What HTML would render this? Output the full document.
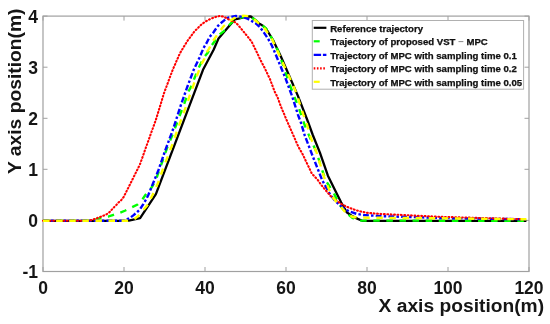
<!DOCTYPE html>
<html><head><meta charset="utf-8"><style>
html,body{margin:0;padding:0;background:#fff;}
svg{display:block;}
text{font-family:"Liberation Sans",Arial,sans-serif;font-weight:bold;fill:#151515;}
</style></head><body>
<svg width="550" height="324" viewBox="0 0 550 324">
<rect x="0" y="0" width="550" height="324" fill="#fff"/>
<rect x="43.0" y="16.1" width="486.0" height="255.4" fill="none" stroke="#a0a0a0" stroke-width="1.2"/>
<line x1="43.0" y1="271.5" x2="43.0" y2="267.0" stroke="#a0a0a0" stroke-width="1"/>
<line x1="43.0" y1="16.1" x2="43.0" y2="20.6" stroke="#a0a0a0" stroke-width="1"/>
<line x1="124.0" y1="271.5" x2="124.0" y2="267.0" stroke="#a0a0a0" stroke-width="1"/>
<line x1="124.0" y1="16.1" x2="124.0" y2="20.6" stroke="#a0a0a0" stroke-width="1"/>
<line x1="205.0" y1="271.5" x2="205.0" y2="267.0" stroke="#a0a0a0" stroke-width="1"/>
<line x1="205.0" y1="16.1" x2="205.0" y2="20.6" stroke="#a0a0a0" stroke-width="1"/>
<line x1="286.0" y1="271.5" x2="286.0" y2="267.0" stroke="#a0a0a0" stroke-width="1"/>
<line x1="286.0" y1="16.1" x2="286.0" y2="20.6" stroke="#a0a0a0" stroke-width="1"/>
<line x1="367.0" y1="271.5" x2="367.0" y2="267.0" stroke="#a0a0a0" stroke-width="1"/>
<line x1="367.0" y1="16.1" x2="367.0" y2="20.6" stroke="#a0a0a0" stroke-width="1"/>
<line x1="448.0" y1="271.5" x2="448.0" y2="267.0" stroke="#a0a0a0" stroke-width="1"/>
<line x1="448.0" y1="16.1" x2="448.0" y2="20.6" stroke="#a0a0a0" stroke-width="1"/>
<line x1="529.0" y1="271.5" x2="529.0" y2="267.0" stroke="#a0a0a0" stroke-width="1"/>
<line x1="529.0" y1="16.1" x2="529.0" y2="20.6" stroke="#a0a0a0" stroke-width="1"/>
<line x1="43.0" y1="271.5" x2="47.5" y2="271.5" stroke="#a0a0a0" stroke-width="1"/>
<line x1="529.0" y1="271.5" x2="524.5" y2="271.5" stroke="#a0a0a0" stroke-width="1"/>
<line x1="43.0" y1="220.4" x2="47.5" y2="220.4" stroke="#a0a0a0" stroke-width="1"/>
<line x1="529.0" y1="220.4" x2="524.5" y2="220.4" stroke="#a0a0a0" stroke-width="1"/>
<line x1="43.0" y1="169.3" x2="47.5" y2="169.3" stroke="#a0a0a0" stroke-width="1"/>
<line x1="529.0" y1="169.3" x2="524.5" y2="169.3" stroke="#a0a0a0" stroke-width="1"/>
<line x1="43.0" y1="118.3" x2="47.5" y2="118.3" stroke="#a0a0a0" stroke-width="1"/>
<line x1="529.0" y1="118.3" x2="524.5" y2="118.3" stroke="#a0a0a0" stroke-width="1"/>
<line x1="43.0" y1="67.2" x2="47.5" y2="67.2" stroke="#a0a0a0" stroke-width="1"/>
<line x1="529.0" y1="67.2" x2="524.5" y2="67.2" stroke="#a0a0a0" stroke-width="1"/>
<line x1="43.0" y1="16.1" x2="47.5" y2="16.1" stroke="#a0a0a0" stroke-width="1"/>
<line x1="529.0" y1="16.1" x2="524.5" y2="16.1" stroke="#a0a0a0" stroke-width="1"/>
<polyline points="43.0,220.8 127.7,220.8 140.1,218.1 155.9,194.2 203.0,69.8 213.5,50.0 218.5,38.5 234.7,19.4 239.7,18.3 243.4,17.4 248.3,16.5 250.8,16.5 254.5,19.3 259.5,23.6 263.2,26.0 266.0,28.5 273.0,40.0 281.0,56.7 297.8,95.6 307.3,120.0 312.8,135.0 320.0,152.9 327.9,175.7 335.2,190.4 341.1,202.2 346.7,212.2 352.2,216.1 357.8,218.9 362.2,220.8 526.4,220.8" fill="none" stroke="#000" stroke-width="2.3" stroke-linejoin="round"/>
<polyline points="43.0,220.8 92.5,220.8 96.9,219.1 101.0,217.8 108.0,216.7 113.5,214.8 120.2,212.6 125.4,210.5 132.1,207.1 137.5,204.6 142.5,199.2 145.4,195.0 151.9,187.1 155.8,180.0 167.3,147.3 172.2,135.6 184.3,103.5 188.6,91.2 191.0,86.9 198.6,67.9 201.1,63.0 204.8,56.2 207.9,52.5 211.6,45.4 215.3,40.5 219.0,34.9 223.9,31.2 228.0,26.2 231.0,23.1 234.1,21.2 238.0,18.2 245.0,16.5 251.0,17.0 259.5,23.0 266.0,28.5 272.0,38.5 279.0,53.0 289.7,84.8 299.1,108.7 304.6,124.8 309.1,135.6 316.5,152.3 325.4,180.0 333.3,192.2 336.7,198.9 341.1,206.7 345.6,212.2 352.2,217.8 358.9,220.6 526.4,220.8" fill="none" stroke="#00ff00" stroke-width="2.4" stroke-dasharray="6.5 6.6"/>
<polyline points="43.0,220.8 124.0,220.8 130.0,217.8 133.3,215.4 136.7,212.5 140.0,209.2 143.3,204.2 146.7,198.3 148.3,195.0 158.5,170.0 165.7,149.1 172.8,130.0 181.2,104.1 187.3,86.9 193.7,69.8 199.3,58.0 203.6,47.9 206.6,43.0 209.7,36.8 213.4,32.5 215.6,29.3 218.0,25.9 220.5,23.4 224.2,20.3 226.0,18.8 228.5,17.6 232.2,16.6 235.9,16.0 239.0,16.3 244.0,17.4 248.0,18.9 250.4,20.3 255.4,23.1 259.7,26.8 264.6,33.6 267.8,38.3 271.5,44.8 275.0,52.8 285.4,78.0 288.1,85.4 292.2,96.5 295.1,105.6 297.8,114.3 300.9,122.6 304.8,135.6 307.9,143.6 311.9,154.1 322.1,180.0 330.0,194.4 334.4,200.0 338.9,204.4 344.4,208.9 350.0,211.7 356.7,213.9 363.3,215.0 380.0,216.1 440.0,218.0 526.4,219.3" fill="none" stroke="#0000ff" stroke-width="2.4" stroke-dasharray="5.8 2.2 2.5 2.2"/>
<polyline points="43.0,220.8 88.0,220.8 92.4,219.9 95.4,218.7 98.4,217.6 101.7,216.4 104.7,215.2 107.6,213.7 109.8,211.9 112.1,209.3 114.3,207.0 116.5,204.8 118.8,202.2 121.0,200.4 123.6,197.1 128.6,187.2 133.5,177.3 139.8,164.8 146.8,145.0 152.2,130.0 155.8,120.0 161.1,102.8 163.7,94.0 172.3,70.8 179.8,53.5 187.2,41.2 194.6,31.3 202.0,23.9 206.5,21.0 210.6,18.8 213.7,17.6 216.8,16.6 219.9,16.0 223.0,16.5 225.9,17.8 228.8,19.5 231.9,21.0 235.0,22.2 237.3,24.2 239.3,26.5 243.6,31.7 247.7,36.7 251.7,41.8 254.6,47.8 257.5,53.7 261.7,62.5 264.7,68.0 267.6,74.2 270.1,79.4 272.5,86.0 274.9,92.1 277.7,97.6 281.2,107.3 283.8,113.3 286.3,119.3 294.2,137.3 298.1,146.2 302.8,154.6 311.9,173.7 317.8,180.0 321.1,184.8 330.4,195.9 341.1,203.9 346.7,206.7 352.2,208.9 358.9,211.1 366.7,212.8 380.0,213.9 440.0,216.8 526.4,219.3" fill="none" stroke="#ff0000" stroke-width="2.1" stroke-linecap="round" stroke-dasharray="0.8 2.6"/>
<polyline points="43.0,220.8 128.0,220.8 134.2,219.2 138.3,215.8 143.3,210.0 147.5,205.0 152.5,195.0 154.0,192.0 158.3,182.3 162.6,170.0 171.0,147.9 174.7,138.0 176.5,132.5 188.0,101.0 189.5,96.1 192.3,88.7 194.5,82.0 201.7,63.6 204.2,59.3 206.7,52.5 209.1,48.5 212.8,41.1 216.5,35.9 220.2,30.6 223.6,26.2 229.1,21.3 234.1,18.2 237.7,16.3 243.2,15.7 248.6,16.2 253.9,19.3 257.6,22.3 263.2,26.7 271.5,38.0 279.5,55.5 293.4,86.0 296.5,93.5 303.4,114.9 305.8,120.0 310.0,135.6 313.5,144.9 316.5,152.3 325.0,180.0 332.2,196.7 336.7,202.2 341.1,206.7 344.4,211.1 348.9,215.6 354.4,217.2 363.3,217.6 380.0,217.8 440.0,218.3 526.4,219.3" fill="none" stroke="#ffff00" stroke-width="2.4" stroke-dasharray="6.5 6.6"/>
<text x="43.0" y="294.0" font-size="17.5" text-anchor="middle">0</text>
<text x="124.0" y="294.0" font-size="17.5" text-anchor="middle">20</text>
<text x="205.0" y="294.0" font-size="17.5" text-anchor="middle">40</text>
<text x="286.0" y="294.0" font-size="17.5" text-anchor="middle">60</text>
<text x="367.0" y="294.0" font-size="17.5" text-anchor="middle">80</text>
<text x="448.0" y="294.0" font-size="17.5" text-anchor="middle">100</text>
<text x="529.0" y="294.0" font-size="17.5" text-anchor="middle">120</text>
<text x="38" y="278.4" font-size="17.5" text-anchor="end">-1</text>
<text x="38" y="227.3" font-size="17.5" text-anchor="end">0</text>
<text x="38" y="176.2" font-size="17.5" text-anchor="end">1</text>
<text x="38" y="125.1" font-size="17.5" text-anchor="end">2</text>
<text x="38" y="74.0" font-size="17.5" text-anchor="end">3</text>
<text x="38" y="22.9" font-size="17.5" text-anchor="end">4</text>
<text x="378.6" y="312.1" font-size="18.3" textLength="165.5" lengthAdjust="spacingAndGlyphs">X axis position(m)</text>
<text transform="translate(20.5,174) rotate(-90)" x="0" y="0" font-size="18.3" textLength="165.5" lengthAdjust="spacingAndGlyphs">Y axis position(m)</text>
<rect x="312.3" y="20.5" width="211.3" height="68.7" fill="#fff" stroke="#b0b0b0" stroke-width="1"/>
<line x1="313.7" y1="27.8" x2="326.4" y2="27.8" stroke="#000" stroke-width="2.2"/>
<text x="330.2" y="31.7" font-size="9.6" stroke="#000" stroke-width="0.25">Reference trajectory</text>
<line x1="313.7" y1="41.3" x2="326.4" y2="41.3" stroke="#00ff00" stroke-width="2.2" stroke-dasharray="6 20"/>
<text x="330.2" y="45.2" font-size="9.6" stroke="#000" stroke-width="0.25">Trajectory of proposed VST <tspan fill="#909090" stroke="none">−</tspan> MPC</text>
<line x1="313.7" y1="54.8" x2="326.4" y2="54.8" stroke="#0000ff" stroke-width="2.2" stroke-dasharray="7.4 1.8 5 2"/>
<text x="330.2" y="58.7" font-size="9.6" stroke="#000" stroke-width="0.25">Trajectory of MPC with sampling time 0.1</text>
<line x1="313.7" y1="68.3" x2="326.4" y2="68.3" stroke="#ff0000" stroke-width="2.2" stroke-dasharray="1.6 1.6"/>
<text x="330.2" y="72.2" font-size="9.6" stroke="#000" stroke-width="0.25">Trajectory of MPC with sampling time 0.2</text>
<line x1="313.7" y1="81.8" x2="326.4" y2="81.8" stroke="#ffff00" stroke-width="2.2" stroke-dasharray="6 20"/>
<text x="330.2" y="85.7" font-size="9.6" stroke="#000" stroke-width="0.25">Trajectory of MPC with sampling time 0.05</text>
</svg>
</body></html>
